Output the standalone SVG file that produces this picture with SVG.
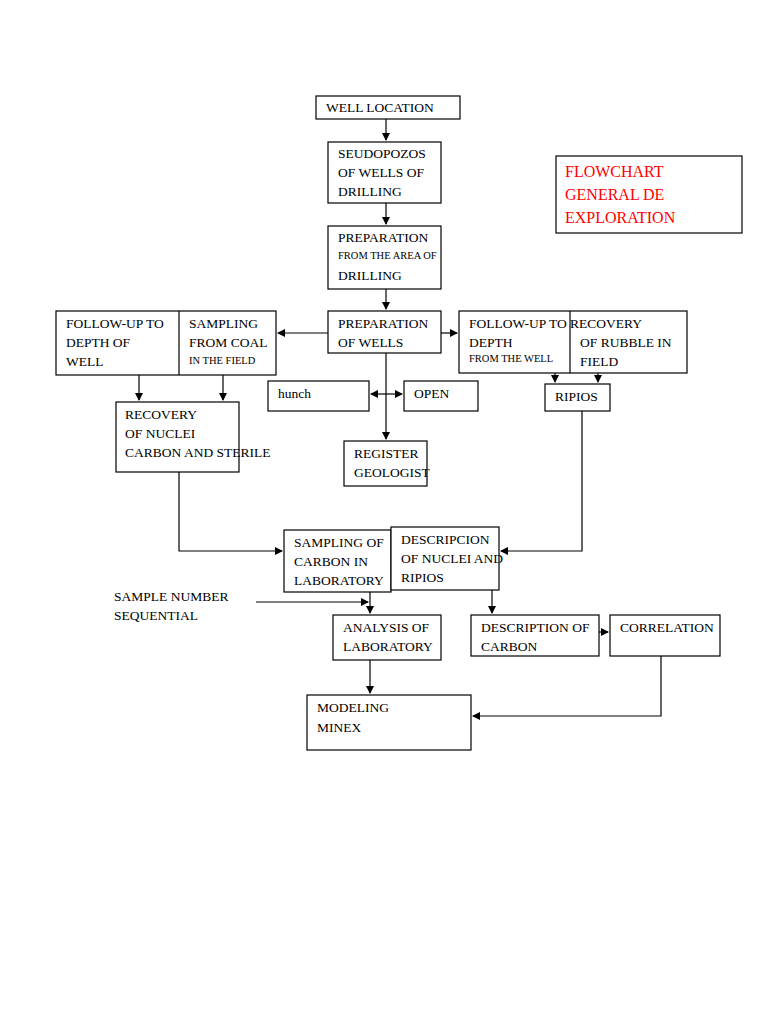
<svg xmlns="http://www.w3.org/2000/svg" width="768" height="1024" viewBox="0 0 768 1024">
<style>
rect{fill:#fff;stroke:#000;stroke-width:1.2}
rect.bg{stroke:none}
text{font-family:"Liberation Serif","Times New Roman",serif;font-size:13.5px;fill:#000}
.s{font-size:10.5px}
.r{fill:#f00;font-size:16px}
.c{fill:none;stroke:#000;stroke-width:1.2}
</style>
<defs><marker id="a" markerWidth="8" markerHeight="8" refX="7" refY="4" orient="auto-start-reverse" markerUnits="userSpaceOnUse"><path d="M0,0L8,4L0,8z" fill="#000"/></marker></defs>
<rect class="bg" width="768" height="1024"/>
<g id="connectors">
<path class="c" d="M386,119V140" marker-end="url(#a)"/>
<path class="c" d="M386,203V224" marker-end="url(#a)"/>
<path class="c" d="M386,289V309" marker-end="url(#a)"/>
<path class="c" d="M386,353V439" marker-end="url(#a)"/>
<path class="c" d="M328,333H278" marker-end="url(#a)"/>
<path class="c" d="M441,333H457" marker-end="url(#a)"/>
<path class="c" d="M371,394H402" marker-start="url(#a)" marker-end="url(#a)"/>
<path class="c" d="M139,375V400" marker-end="url(#a)"/>
<path class="c" d="M223,375V400" marker-end="url(#a)"/>
<path class="c" d="M555,373V382" marker-end="url(#a)"/>
<path class="c" d="M598,373V382" marker-end="url(#a)"/>
<path class="c" d="M179,472V551H282" marker-end="url(#a)"/>
<path class="c" d="M582,411V551H501" marker-end="url(#a)"/>
<path class="c" d="M256,602H368" marker-end="url(#a)"/>
<path class="c" d="M370,592V613" marker-end="url(#a)"/>
<path class="c" d="M492,590V613" marker-end="url(#a)"/>
<path class="c" d="M599,632H608" marker-end="url(#a)"/>
<path class="c" d="M370,660V693" marker-end="url(#a)"/>
<path class="c" d="M661,656V716H473" marker-end="url(#a)"/>
</g>
<g id="well-location"><rect x="316" y="96" width="144" height="23"/><text x="326" y="112">WELL LOCATION</text></g>
<g id="seudopozos"><rect x="328" y="142" width="113" height="61"/><text x="338" y="158">SEUDOPOZOS</text><text x="338" y="177">OF WELLS OF</text><text x="338" y="196">DRILLING</text></g>
<g id="prep-area"><rect x="328" y="226" width="113" height="63"/><text x="338" y="242">PREPARATION</text><text class="s" x="338" y="259">FROM THE AREA OF</text><text x="338" y="280">DRILLING</text></g>
<g id="prep-wells"><rect x="328" y="311" width="113" height="42"/><text x="338" y="328">PREPARATION</text><text x="338" y="347">OF WELLS</text></g>
<g id="left-combo"><rect x="56" y="311" width="220" height="64"/><path class="c" d="M179,311V375"/><text x="66" y="328">FOLLOW-UP TO</text><text x="66" y="347">DEPTH OF</text><text x="66" y="366">WELL</text><text x="189" y="328">SAMPLING</text><text x="189" y="347">FROM COAL</text><text class="s" x="189" y="364">IN THE FIELD</text></g>
<g id="right-combo"><rect x="459" y="311" width="228" height="62"/><path class="c" d="M570,311V373"/><text x="469" y="328">FOLLOW-UP TO</text><text x="469" y="347">DEPTH</text><text class="s" x="469" y="362">FROM THE WELL</text><text x="570" y="328">RECOVERY</text><text x="580" y="347">OF RUBBLE IN</text><text x="580" y="366">FIELD</text></g>
<g id="hunch"><rect x="268" y="381" width="101" height="30"/><text x="278" y="398">hunch</text></g>
<g id="open"><rect x="404" y="381" width="74" height="30"/><text x="414" y="398">OPEN</text></g>
<g id="recovery-nuclei"><rect x="116" y="402" width="123" height="70"/><text x="125" y="419">RECOVERY</text><text x="125" y="438">OF NUCLEI</text><text x="125" y="457">CARBON AND STERILE</text></g>
<g id="ripios"><rect x="545" y="384" width="65" height="27"/><text x="555" y="401">RIPIOS</text></g>
<g id="register"><rect x="344" y="441" width="83" height="45"/><text x="354" y="458">REGISTER</text><text x="354" y="477">GEOLOGIST</text></g>
<g id="sampling-carbon"><rect x="284" y="530" width="107" height="62"/><text x="294" y="547">SAMPLING OF</text><text x="294" y="566">CARBON IN</text><text x="294" y="585">LABORATORY</text></g>
<g id="descripcion"><rect x="391" y="527" width="108" height="63"/><text x="401" y="544">DESCRIPCION</text><text x="401" y="563">OF NUCLEI AND</text><text x="401" y="582">RIPIOS</text></g>
<g id="sample-number"><text x="114" y="601">SAMPLE NUMBER</text><text x="114" y="620">SEQUENTIAL</text></g>
<g id="analysis"><rect x="333" y="615" width="108" height="45"/><text x="343" y="632">ANALYSIS OF</text><text x="343" y="651">LABORATORY</text></g>
<g id="desc-carbon"><rect x="471" y="615" width="128" height="41"/><text x="481" y="632">DESCRIPTION OF</text><text x="481" y="651">CARBON</text></g>
<g id="correlation"><rect x="610" y="615" width="110" height="41"/><text x="620" y="632">CORRELATION</text></g>
<g id="modeling"><rect x="307" y="695" width="164" height="55"/><text x="317" y="712">MODELING</text><text x="317" y="732">MINEX</text></g>
<g id="title"><rect x="556" y="156" width="186" height="77"/><text class="r" x="565" y="177">FLOWCHART</text><text class="r" x="565" y="200">GENERAL DE</text><text class="r" x="565" y="223">EXPLORATION</text></g>
</svg>
